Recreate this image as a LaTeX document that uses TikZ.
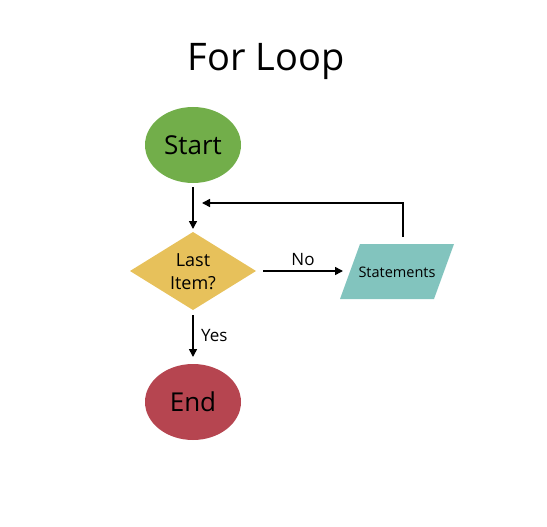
\documentclass[tikz,border=0pt]{standalone}
\usepackage{fontspec}
\setmainfont{Open Sans}
\usetikzlibrary{arrows.meta,shapes.geometric}
\definecolor{cgreen}{HTML}{72AE4A}
\definecolor{cgold}{HTML}{E7C15B}
\definecolor{cteal}{HTML}{82C4BE}
\definecolor{cred}{HTML}{B64550}
\tikzset{
  term/.style={ellipse, minimum width=96pt, minimum height=76pt, inner sep=0pt, font=\fontsize{26}{30}\selectfont},
  conn/.style={line width=1.6pt, -{Triangle[length=8pt,width=8pt]}},
  lbl/.style={font=\fontsize{17}{20}\selectfont},
}
\begin{document}
\begin{tikzpicture}[x=1pt,y=-1pt]
\useasboundingbox (0,0) rectangle (547,527);
\node (title) at (266,62) {\fontsize{38}{44}\selectfont For Loop};
\node[term, fill=cgreen] (start) at (193,145) {Start};
\node[term, fill=cred] (endn) at (193,402) {End};
% decision diamond
\coordinate (dT) at (193,232);
\coordinate (dR) at (256,271);
\coordinate (dB) at (193,310);
\coordinate (dL) at (130,271);
\fill[cgold] (dT) -- (dR) -- (dB) -- (dL) -- cycle;
\node[font=\fontsize{18}{23}\selectfont, align=center] (dec) at (193,272) {Last\\Item?};
% statements parallelogram
\coordinate (pTL) at (360,244);
\coordinate (pTR) at (454,244);
\coordinate (pBR) at (434,299);
\coordinate (pBL) at (340,299);
\fill[cteal] (pTL) -- (pTR) -- (pBR) -- (pBL) -- cycle;
\node[font=\fontsize{14.5}{17}\selectfont] (stm) at (397,272) {Statements};
% connectors
\coordinate (s1) at (193,187);
\coordinate (s2) at (193,229);
\draw[conn] (s1) -- (s2);
\coordinate (n1) at (263,271);
\coordinate (n2) at (343,271);
\draw[conn] (n1) -- node[lbl, above=1pt] (no) {No} (n2);
\coordinate (l1) at (403,237);
\coordinate (l2) at (202,203);
\draw[conn] (l1) |- (l2);
\coordinate (y1) at (193,315);
\coordinate (y2) at (193,357);
\draw[conn] (y1) -- node[lbl, right=4pt] (yes) {Yes} (y2);
\end{tikzpicture}
\end{document}
